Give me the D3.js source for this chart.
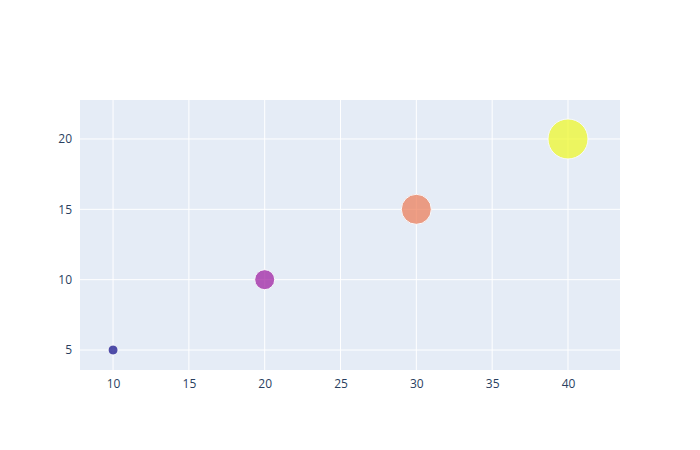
<!DOCTYPE html>
<html>
<head>
<meta charset="utf-8">
<script src="https://cdn.jsdelivr.net/npm/d3@7"></script>
<style>
  body { margin: 0; background: #fff; }
  text { font-family: "Open Sans", sans-serif; }
</style>
</head>
<body>
<div id="chart"></div>
<script>
// data
var xValues = [10, 20, 30, 40];
var yValues = [5, 10, 15, 20];
var sizeValues = [10, 20, 30, 40];
var xTicks = [10, 15, 20, 25, 30, 35, 40];
var yTicks = [5, 10, 15, 20];

var plasma = ['#0d0887', '#46039f', '#7201a8', '#9c179e', '#bd3786',
              '#d8576b', '#ed7953', '#fb9f3a', '#fdca26', '#f0f921'];

var margin = { left: 80, right: 80, top: 100, bottom: 80 };
var width = 700 - margin.left - margin.right;
var height = 450 - margin.top - margin.bottom;

var svg = d3.select("#chart")
  .append("svg")
  .attr("width", 700)
  .attr("height", 450);

var g = svg.append("g")
  .attr("transform", "translate(" + margin.left + "," + margin.top + ")");

// scales
var x = d3.scaleLinear().domain([7.82, 43.43]).range([0, width]);
var y = d3.scaleLinear().domain([3.58, 22.77]).range([height, 0]);
var r = d3.scaleLinear().domain([0, 40]).range([0, 20]);

var sMin = d3.min(sizeValues), sMax = d3.max(sizeValues);
var color = d3.scaleLinear()
  .domain(plasma.map(function (c, i) { return sMin + (sMax - sMin) * i / (plasma.length - 1); }))
  .range(plasma);

// background
g.append("rect")
  .attr("width", width)
  .attr("height", height)
  .attr("fill", "#e5ecf6");

// grid
g.selectAll(".xgrid").data(xTicks).enter()
  .append("line")
  .attr("x1", function (d) { return x(d); })
  .attr("x2", function (d) { return x(d); })
  .attr("y1", 0).attr("y2", height)
  .attr("stroke", "#fff").attr("stroke-width", 1);

g.selectAll(".ygrid").data(yTicks).enter()
  .append("line")
  .attr("y1", function (d) { return y(d); })
  .attr("y2", function (d) { return y(d); })
  .attr("x1", 0).attr("x2", width)
  .attr("stroke", "#fff").attr("stroke-width", 1);

// axes
var xAxis = g.append("g")
  .attr("transform", "translate(0," + height + ")")
  .call(d3.axisBottom(x).tickValues(xTicks).tickSize(0).tickPadding(9));
var yAxis = g.append("g")
  .call(d3.axisLeft(y).tickValues(yTicks).tickSize(0).tickPadding(8));

[xAxis, yAxis].forEach(function (a) {
  a.select(".domain").remove();
  a.selectAll("text")
    .attr("fill", "#2a3f5f")
    .style("font-size", "12px")
    .style("font-family", "'Open Sans', sans-serif");
});

// bubbles
var pts = xValues.map(function (d, i) {
  return { x: d, y: yValues[i], s: sizeValues[i] };
});

g.selectAll(".bubble").data(pts).enter()
  .append("circle")
  .attr("class", "bubble")
  .attr("cx", function (d) { return x(d.x); })
  .attr("cy", function (d) { return y(d.y); })
  .attr("r", function (d) { return r(d.s); })
  .attr("fill", function (d) { return color(d.s); })
  .attr("stroke", "#fff")
  .attr("stroke-width", 1)
  .attr("opacity", 0.7);
</script>
</body>
</html>
